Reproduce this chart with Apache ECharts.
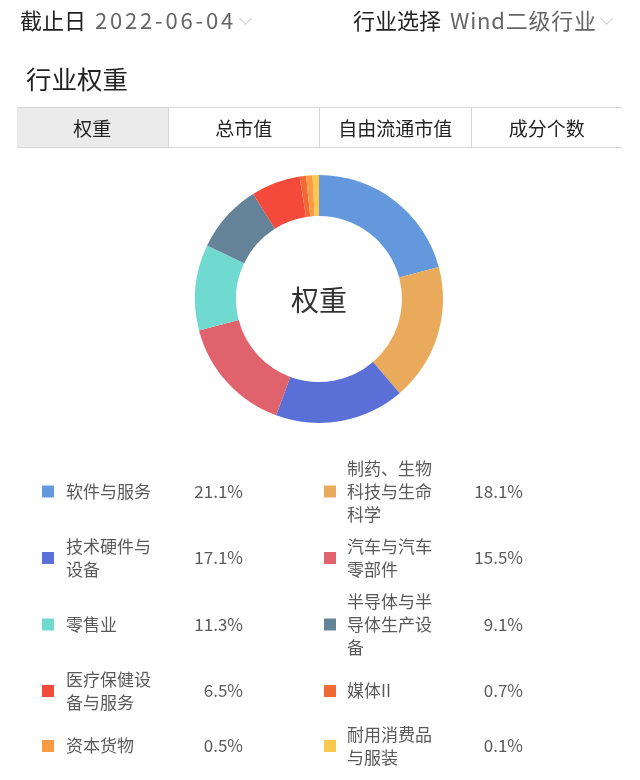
<!DOCTYPE html>
<html>
<head>
<meta charset="utf-8">
<script src="https://cdn.jsdelivr.net/npm/echarts@6/dist/echarts.min.js"></script>
<style>
  html, body { margin: 0; padding: 0; background: #fff; }
  body { width: 640px; height: 780px; position: relative; overflow: hidden;
         font-family: "Noto Sans CJK SC", "Noto Sans", sans-serif; }
  #chart { position: absolute; left: 0; top: 0; width: 640px; height: 780px; }
  .top { position: absolute; top: 6px; font-size: 22px; line-height: 26px; color: #222; white-space: nowrap; }
  .top .v { color: #666; margin-left: 9px; }
  .top .arrow { display: inline-block; width: 8px; height: 8px; border-right: 1px solid #ccc; border-bottom: 1px solid #ccc;
                transform: rotate(45deg); margin-left: 5px; position: relative; top: -6px; }
  .title { position: absolute; left: 26px; top: 63px; font-size: 25.5px; line-height: 30px; color: #222; }
  .tabs { position: absolute; left: 17px; top: 107px; width: 605px; height: 39px; display: flex;
          border-top: 1px solid #d6d6d6; border-bottom: 1px solid #d6d6d6; z-index: 2; }
  .tabs div { flex: 1; text-align: center; line-height: 39px; font-size: 19px; color: #222; border-left: 1px solid #d6d6d6; }
  .tabs div:first-child { border-left: none; background: #ebebeb; }
</style>
</head>
<body>
<div id="chart"></div>
<div class="top" style="left:20px;">截止日<span class="v" style="letter-spacing:2.8px;">2022-06-04</span><span class="arrow"></span></div>
<div class="top" style="left:353px;">行业选择<span class="v" style="letter-spacing:0.8px;">Wind二级行业</span><span class="arrow"></span></div>
<div class="title">行业权重</div>
<div class="tabs"><div>权重</div><div>总市值</div><div>自由流通市值</div><div>成分个数</div></div>
<script>
// 行业名称
const industries = ['软件与服务', '制药、生物科技与生命科学', '技术硬件与设备', '汽车与汽车零部件', '零售业',
  '半导体与半导体生产设备', '医疗保健设备与服务', '媒体II', '资本货物', '耐用消费品与服装'];
// 权重 (%)
const weights = [21.1, 18.1, 17.1, 15.5, 11.3, 9.1, 6.5, 0.7, 0.5, 0.1];
const colors = ['#6399dc', '#e9aa5b', '#5a70d6', '#e0626c', '#70d9d0',
  '#648399', '#f44a3b', '#ef6a37', '#f99a44', '#fcc74f'];
const centerText = '权重';

const font = '"Noto Sans CJK SC", "Noto Sans", sans-serif';

// 图例文字每行5个字
const wrap = (s, n = 5) => {
  const out = [];
  for (let i = 0; i < s.length; i += n) out.push(s.slice(i, i + n));
  return out;
};

// 图例布局
const legendTop = 457;
const lineH = 23;
const rowGap = 9;
const cols = [{ box: 42, text: 66, value: 243 }, { box: 324, text: 347, value: 523 }];

const graphics = [];
let y = legendTop;
for (let r = 0; r * 2 < industries.length; r++) {
  const idx = [r * 2, r * 2 + 1].filter(i => i < industries.length);
  const lines = Math.max(...idx.map(i => wrap(industries[i]).length));
  const h = lines * lineH;
  const cy = y + h / 2;
  idx.forEach((i, c) => {
    const col = cols[c];
    graphics.push({
      type: 'rect', shape: { x: col.box, y: cy - 6, width: 12, height: 12 },
      style: { fill: colors[i] }, silent: true
    });
    graphics.push({
      type: 'text', x: col.text, y: cy,
      style: { text: wrap(industries[i]).join('\n'), font: '17px ' + font, fill: '#5a5a5a',
        verticalAlign: 'middle', lineHeight: lineH }, silent: true
    });
    graphics.push({
      type: 'text', x: col.value, y: cy,
      style: { text: weights[i].toFixed(1) + '%', font: '17px ' + font, fill: '#5a5a5a',
        align: 'right', verticalAlign: 'middle' }, silent: true
    });
  });
  y += h + rowGap;
}

graphics.push({
  type: 'text', x: 319, y: 300,
  style: { text: centerText, font: '28px ' + font, fill: '#333', align: 'center', verticalAlign: 'middle' },
  silent: true
});

const chart = echarts.init(document.getElementById('chart'));
chart.setOption({
  animation: false,
  color: colors,
  graphic: graphics,
  series: [{
    type: 'pie',
    center: [319, 299],
    radius: [83, 124],
    startAngle: 90,
    minAngle: 3,
    label: { show: false },
    labelLine: { show: false },
    emphasis: { disabled: true },
    itemStyle: { borderWidth: 0 },
    data: industries.map((name, i) => ({ name, value: weights[i] }))
  }]
});
</script>
</body>
</html>
